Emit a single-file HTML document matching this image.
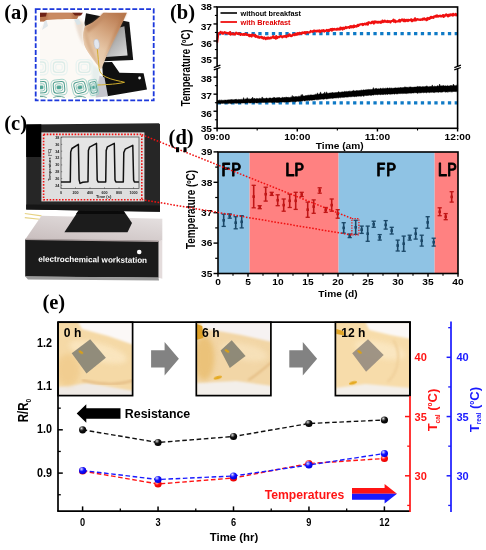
<!DOCTYPE html>
<html lang="en"><head><meta charset="utf-8"><title>Figure</title>
<style>
html,body{margin:0;padding:0;background:#fff;}
body{width:486px;height:550px;overflow:hidden;}
svg{display:block;}
</style></head><body>
<svg width="486" height="550" viewBox="0 0 486 550">
<rect width="486" height="550" fill="#fff"/>
<defs>
<filter id="b1" x="-20%" y="-20%" width="140%" height="140%"><feGaussianBlur stdDeviation="0.6"/></filter>
<filter id="b2" x="-20%" y="-20%" width="140%" height="140%"><feGaussianBlur stdDeviation="1.2"/></filter>
<filter id="b3" x="-30%" y="-30%" width="160%" height="160%"><feGaussianBlur stdDeviation="2.5"/></filter>
<filter id="b5" x="-30%" y="-30%" width="160%" height="160%"><feGaussianBlur stdDeviation="5"/></filter>
<clipPath id="clipA"><rect x="40" y="12.6" width="112" height="85.1"/></clipPath>
<clipPath id="clipP1"><rect x="58.0" y="322.2" width="74.6" height="73.4"/></clipPath>
<clipPath id="clipP2"><rect x="196.3" y="322.2" width="74.6" height="73.4"/></clipPath>
<clipPath id="clipP3"><rect x="335.4" y="322.2" width="74.6" height="73.4"/></clipPath>
<linearGradient id="skinA" x1="0.75" y1="0" x2="0.3" y2="1"><stop offset="0" stop-color="#b9794f"/><stop offset="0.35" stop-color="#d3a37c"/><stop offset="0.65" stop-color="#e6c6a6"/><stop offset="1" stop-color="#ecd2b8"/></linearGradient>
<linearGradient id="scrA" x1="0.2" y1="0" x2="0.8" y2="1"><stop offset="0" stop-color="#8e8e8e"/><stop offset="1" stop-color="#d6d6d6"/></linearGradient>
<linearGradient id="topW" x1="0.8" y1="0" x2="0.1" y2="1"><stop offset="0" stop-color="#e4dfdf"/><stop offset="1" stop-color="#c9bebe"/></linearGradient>
<radialGradient id="ball" cx="0.35" cy="0.3" r="0.7"><stop offset="0" stop-color="#e8e8e8"/><stop offset="0.22" stop-color="#777"/><stop offset="0.5" stop-color="#111"/><stop offset="1" stop-color="#000"/></radialGradient>
<radialGradient id="ballR" cx="0.35" cy="0.3" r="0.7"><stop offset="0" stop-color="#ffe0e0"/><stop offset="0.22" stop-color="#ff8080"/><stop offset="0.5" stop-color="#ff1010"/><stop offset="1" stop-color="#e80000"/></radialGradient>
<radialGradient id="ballB" cx="0.35" cy="0.3" r="0.7"><stop offset="0" stop-color="#e0e0ff"/><stop offset="0.22" stop-color="#8080ff"/><stop offset="0.5" stop-color="#1010ff"/><stop offset="1" stop-color="#0000e0"/></radialGradient>
</defs>
<text x="4.3" y="18.9" font-size="20.5" font-weight="bold" fill="#000" text-anchor="start" font-family='"Liberation Serif", serif' >(a)</text>
<g clip-path="url(#clipA)">
<rect x="36" y="10" width="118" height="91" fill="#fff"/>
<polygon points="86,13.2 129.3,22 133.2,60 103,61.2 84,26" fill="#131313"/>
<polygon points="110,30 124.4,26.3 127.6,55.4 106,57" fill="url(#scrA)"/>
<polygon points="102,62.3 112,62 119.5,72.8 143.6,73.2 147,89.5 107.3,96.2 103,78" fill="#101010"/>
<polygon points="98,75 104.5,77.5 108,96.2 95.5,97.7" fill="#c6c6ce"/>
<circle cx="139.6" cy="78" r="1.4" fill="#fff"/>
<rect x="40" y="12.6" width="40" height="9" fill="#b9764f"/>
<path d="M40,12.6 L47,12.6 L46,16.5 L40,17 Z" fill="#6e2413" filter="url(#b1)"/>
<path d="M72,12.6 L83,12.6 L81,15.5 L75,15.5 Z" fill="#6e2413" filter="url(#b1)"/>
<path d="M48,12.6 L71,12.6 L73,20 L47,20 Z" fill="#c98a62" filter="url(#b2)"/>
<path d="M103.6,12.6 L127,12.6 C123,22 115,38 107.3,54 L101,70 C96,62 88,54 84.5,46 C82,38 83,30 85,26 C92,24 98,19 103.6,12.6 Z" fill="url(#skinA)"/>
<path d="M85,27 C90,26 97,20 103.6,12.6 L108,12.6 C102,22 94,29 87,33 Z" fill="#c08a63" filter="url(#b2)" opacity="0.7"/>
<path d="M127,12.6 C123,22 115,38 107.3,54 L104,62 C108,46 117,28 123,12.6 Z" fill="#b27449" filter="url(#b2)" opacity="0.45"/>
<path d="M84,30 C84,40 88,52 101,70 C96,58 90,46 87,30 Z" fill="#d6ad88" filter="url(#b2)" opacity="0.8"/>
<path d="M40,28.6 L44.5,21.4 L46.4,20 C56,19 68,19 77,19 L79,15.5 C82,18 84,22 85,26 C82.5,30 82,38 84.5,46.8 C87,53 94,62 101,69.5 C99,76 97.5,85 94.5,97.7 L40,97.7 Z" fill="#fcf9f5"/>
<path d="M78.2,19.5 C81,21 83,23 84.5,25 C82.5,30 82,38 84.5,46.8 C80,40 76,30 75,21 Z" fill="#eadccf" filter="url(#b2)" opacity="0.9"/>
<path d="M44.5,21.4 L46.4,20 L48,26 L42,30 Z" fill="#dfe6ea" filter="url(#b1)"/>
<path d="M74,19.5 L79,19 L81,24 L77,25 Z" fill="#d8e4e8" filter="url(#b1)"/>
<path d="M88,58 C92,64 97,68 101,69.5 C99,76 97.5,85 94.5,97.7 L90,97.7 C93,85 93,72 88,58 Z" fill="#e6eeec" filter="url(#b2)"/>
<rect x="31.8" y="59.7" width="16.4" height="15.1" rx="4.5" fill="none" stroke="#e9f3f1" stroke-width="1.3" filter="url(#b1)"/>
<rect x="34.4" y="62.0" width="11.2" height="10.3" rx="3.1" fill="none" stroke="#dcece8" stroke-width="1.3" filter="url(#b1)"/>
<rect x="36.8" y="64.3" width="6.4" height="5.9" rx="1.8" fill="none" stroke="#ebf4f2" stroke-width="1.3" filter="url(#b1)"/>
<rect x="50.8" y="59.7" width="16.4" height="15.1" rx="4.5" fill="none" stroke="#e9f3f1" stroke-width="1.3" filter="url(#b1)"/>
<rect x="53.4" y="62.0" width="11.2" height="10.3" rx="3.1" fill="none" stroke="#dcece8" stroke-width="1.3" filter="url(#b1)"/>
<rect x="55.8" y="64.3" width="6.4" height="5.9" rx="1.8" fill="none" stroke="#ebf4f2" stroke-width="1.3" filter="url(#b1)"/>
<rect x="76.1" y="59.7" width="16.4" height="15.1" rx="4.5" fill="none" stroke="#e9f3f1" stroke-width="1.3" filter="url(#b1)"/>
<rect x="78.7" y="62.0" width="11.2" height="10.3" rx="3.1" fill="none" stroke="#dcece8" stroke-width="1.3" filter="url(#b1)"/>
<rect x="81.1" y="64.3" width="6.4" height="5.9" rx="1.8" fill="none" stroke="#ebf4f2" stroke-width="1.3" filter="url(#b1)"/>
<rect x="33.2" y="79.6" width="15.6" height="15.6" rx="4.3" fill="none" stroke="#a5d3ca" stroke-width="1.0" transform="rotate(-5 41 87.4)"/>
<rect x="35.4" y="81.8" width="11.2" height="11.2" rx="3.1" fill="none" stroke="#4f9f91" stroke-width="1.0" transform="rotate(-5 41 87.4)"/>
<rect x="37.4" y="83.8" width="7.2" height="7.2" rx="2.0" fill="none" stroke="#8cc6bb" stroke-width="0.9" transform="rotate(-5 41 87.4)"/>
<rect x="38.6" y="85.6" width="4.8" height="3.6" rx="1.2" fill="#4fa596" filter="url(#b1)" transform="rotate(-5 41 87.4)"/>
<rect x="51.2" y="79.6" width="15.6" height="15.6" rx="4.3" fill="none" stroke="#a5d3ca" stroke-width="1.0" transform="rotate(-5 59 87.4)"/>
<rect x="53.4" y="81.8" width="11.2" height="11.2" rx="3.1" fill="none" stroke="#4f9f91" stroke-width="1.0" transform="rotate(-5 59 87.4)"/>
<rect x="55.4" y="83.8" width="7.2" height="7.2" rx="2.0" fill="none" stroke="#8cc6bb" stroke-width="0.9" transform="rotate(-5 59 87.4)"/>
<rect x="56.6" y="85.6" width="4.8" height="3.6" rx="1.2" fill="#4fa596" filter="url(#b1)" transform="rotate(-5 59 87.4)"/>
<rect x="72.2" y="79.6" width="15.6" height="15.6" rx="4.3" fill="none" stroke="#a5d3ca" stroke-width="1.0" transform="rotate(-14 80 87.4)"/>
<rect x="74.4" y="81.8" width="11.2" height="11.2" rx="3.1" fill="none" stroke="#4f9f91" stroke-width="1.0" transform="rotate(-14 80 87.4)"/>
<rect x="76.4" y="83.8" width="7.2" height="7.2" rx="2.0" fill="none" stroke="#8cc6bb" stroke-width="0.9" transform="rotate(-14 80 87.4)"/>
<rect x="77.6" y="85.6" width="4.8" height="3.6" rx="1.2" fill="#4fa596" filter="url(#b1)" transform="rotate(-14 80 87.4)"/>
<rect x="89.2" y="79.6" width="8.6" height="15.6" rx="2.4" fill="none" stroke="#a5d3ca" stroke-width="1.0" transform="rotate(-10 93.5 87.4)"/>
<rect x="90.4" y="81.8" width="6.2" height="11.2" rx="1.7" fill="none" stroke="#4f9f91" stroke-width="1.0" transform="rotate(-10 93.5 87.4)"/>
<rect x="91.5" y="83.8" width="4.0" height="7.2" rx="1.1" fill="none" stroke="#8cc6bb" stroke-width="0.9" transform="rotate(-10 93.5 87.4)"/>
<rect x="92.2" y="85.6" width="2.6" height="3.6" rx="1.2" fill="#4fa596" filter="url(#b1)" transform="rotate(-10 93.5 87.4)"/>
<rect x="34.5" y="96.6" width="13" height="8" rx="4" fill="none" stroke="#5b9d92" stroke-width="1"/>
<rect x="52.5" y="96.6" width="13" height="8" rx="4" fill="none" stroke="#5b9d92" stroke-width="1"/>
<rect x="73.5" y="96.6" width="13" height="8" rx="4" fill="none" stroke="#5b9d92" stroke-width="1"/>
<path d="M97.3,49 C98,56 98.6,63 99.2,68.6 C100,73 102,75 106,77 C112,80 120,81 124.5,82.3 C118,84 108,84.6 97.5,85" fill="none" stroke="#d2ae2c" stroke-width="1"/>
<ellipse cx="96.7" cy="44" rx="2.7" ry="5" fill="#e3e7ef" stroke="#b4b9c6" stroke-width="0.5" transform="rotate(-8 96.7 44)"/>
</g>
<rect x="35.7" y="9.2" width="118" height="91.2" fill="none" stroke="#1c38dc" stroke-width="1.8" stroke-dasharray="4.9 2"/>
<text x="170" y="19" font-size="20.5" font-weight="bold" fill="#000" text-anchor="start" font-family='"Liberation Serif", serif' >(b)</text>
<line x1="217.7" y1="33.6" x2="457.1" y2="33.6" stroke="#0f7ac6" stroke-width="3.3" stroke-dasharray="3.3 3.47"/>
<line x1="217.7" y1="102.9" x2="457.1" y2="102.9" stroke="#0f7ac6" stroke-width="3.3" stroke-dasharray="3.3 3.47"/>
<path d="M217.1,100.6 L217.7,100.3 L218.3,100.3 L218.9,100.5 L219.5,100.0 L220.1,100.5 L220.7,100.2 L221.3,99.8 L221.9,100.4 L222.5,100.3 L223.1,100.2 L223.7,100.3 L224.3,100.2 L224.9,100.0 L225.5,100.1 L226.1,99.9 L226.7,100.2 L227.3,99.9 L227.9,99.9 L228.5,99.8 L229.1,99.9 L229.7,99.7 L230.3,99.6 L230.9,100.0 L231.5,99.3 L232.1,99.9 L232.7,99.5 L233.3,99.8 L233.9,99.7 L234.5,99.7 L235.1,99.1 L235.7,99.6 L236.3,99.3 L236.9,99.6 L237.5,99.7 L238.1,99.7 L238.7,99.3 L239.3,99.5 L239.9,99.5 L240.5,99.4 L241.2,99.2 L241.8,99.4 L242.4,99.4 L243.0,99.4 L243.6,97.6 L244.2,99.1 L244.8,99.4 L245.4,98.9 L246.0,98.9 L246.6,99.0 L247.2,97.6 L247.8,98.8 L248.4,99.2 L249.0,98.5 L249.6,99.2 L250.2,99.1 L250.8,99.0 L251.4,98.4 L252.0,98.8 L252.6,97.1 L253.2,98.8 L253.8,98.7 L254.4,98.0 L255.0,98.8 L255.6,98.9 L256.2,98.4 L256.8,98.5 L257.4,98.5 L258.0,98.8 L258.6,98.7 L259.2,98.5 L259.8,98.2 L260.4,98.6 L261.0,98.7 L261.6,98.2 L262.2,96.9 L262.8,98.2 L263.4,98.3 L264.0,98.5 L264.6,98.5 L265.2,98.5 L265.8,98.3 L266.4,97.9 L267.0,98.1 L267.6,98.4 L268.2,98.4 L268.8,98.2 L269.4,98.1 L270.0,97.8 L270.6,98.1 L271.2,98.3 L271.8,98.3 L272.4,98.0 L273.0,98.1 L273.6,97.4 L274.2,97.6 L274.8,97.4 L275.4,98.1 L276.0,97.9 L276.6,97.8 L277.2,97.8 L277.8,97.6 L278.4,97.9 L279.0,97.0 L279.6,97.8 L280.2,97.9 L280.8,98.0 L281.4,97.9 L282.0,97.6 L282.6,97.3 L283.2,97.6 L283.8,97.8 L284.4,97.1 L285.0,97.8 L285.6,97.3 L286.2,97.2 L286.8,97.0 L287.4,97.6 L288.0,97.0 L288.6,97.4 L289.2,97.6 L289.9,97.5 L290.5,97.2 L291.1,97.2 L291.7,97.1 L292.3,95.4 L292.9,97.2 L293.5,96.3 L294.1,96.9 L294.7,96.8 L295.3,96.6 L295.9,96.6 L296.5,96.6 L297.1,96.7 L297.7,96.7 L298.3,96.2 L298.9,96.5 L299.5,96.3 L300.1,96.4 L300.7,96.1 L301.3,94.6 L301.9,95.9 L302.5,94.4 L303.1,96.1 L303.7,96.0 L304.3,95.9 L304.9,95.9 L305.5,95.6 L306.1,95.6 L306.7,95.6 L307.3,95.3 L307.9,95.5 L308.5,94.9 L309.1,95.2 L309.7,95.2 L310.3,95.1 L310.9,94.7 L311.5,94.9 L312.1,95.1 L312.7,95.1 L313.3,94.9 L313.9,94.9 L314.5,94.8 L315.1,94.4 L315.7,94.2 L316.3,94.3 L316.9,94.5 L317.5,92.8 L318.1,94.3 L318.7,94.3 L319.3,94.0 L319.9,93.8 L320.5,91.9 L321.1,93.6 L321.7,93.9 L322.3,93.9 L322.9,93.8 L323.5,93.5 L324.1,93.5 L324.7,91.9 L325.3,93.4 L325.9,93.7 L326.5,91.8 L327.1,93.6 L327.7,93.1 L328.3,93.4 L328.9,93.0 L329.5,93.1 L330.1,92.8 L330.7,93.0 L331.3,93.0 L331.9,92.4 L332.5,92.5 L333.1,92.5 L333.7,92.9 L334.3,92.7 L334.9,92.7 L335.5,92.6 L336.1,92.4 L336.7,92.5 L337.4,92.5 L338.0,92.2 L338.6,91.5 L339.2,92.3 L339.8,92.3 L340.4,92.3 L341.0,92.3 L341.6,91.9 L342.2,91.9 L342.8,91.8 L343.4,91.9 L344.0,92.0 L344.6,91.3 L345.2,91.8 L345.8,91.5 L346.4,91.4 L347.0,91.4 L347.6,91.7 L348.2,91.1 L348.8,91.5 L349.4,91.1 L350.0,91.4 L350.6,91.2 L351.2,91.3 L351.8,91.2 L352.4,90.9 L353.0,91.1 L353.6,90.3 L354.2,90.8 L354.8,91.0 L355.4,90.9 L356.0,90.8 L356.6,90.5 L357.2,90.5 L357.8,90.7 L358.4,90.7 L359.0,90.4 L359.6,90.6 L360.2,90.3 L360.8,90.4 L361.4,90.0 L362.0,90.2 L362.6,90.3 L363.2,89.7 L363.8,90.1 L364.4,90.1 L365.0,90.1 L365.6,89.8 L366.2,90.0 L366.8,89.4 L367.4,89.7 L368.0,89.6 L368.6,89.4 L369.2,89.5 L369.8,89.6 L370.4,89.4 L371.0,89.5 L371.6,89.5 L372.2,89.3 L372.8,89.2 L373.4,87.6 L374.0,89.3 L374.6,89.2 L375.2,88.3 L375.8,88.9 L376.4,88.3 L377.0,88.8 L377.6,88.9 L378.2,88.8 L378.8,88.7 L379.4,88.9 L380.0,88.6 L380.6,88.1 L381.2,88.7 L381.8,88.7 L382.4,88.3 L383.0,88.7 L383.6,88.2 L384.2,88.4 L384.8,88.6 L385.4,88.2 L386.1,88.4 L386.7,88.3 L387.3,87.9 L387.9,87.9 L388.5,88.4 L389.1,88.3 L389.7,87.7 L390.3,88.2 L390.9,88.2 L391.5,88.0 L392.1,88.2 L392.7,88.3 L393.3,88.3 L393.9,88.1 L394.5,88.0 L395.1,88.0 L395.7,87.7 L396.3,87.9 L396.9,88.0 L397.5,87.9 L398.1,87.4 L398.7,87.9 L399.3,88.0 L399.9,87.4 L400.5,87.6 L401.1,87.5 L401.7,87.8 L402.3,87.6 L402.9,87.7 L403.5,87.5 L404.1,87.5 L404.7,86.8 L405.3,87.0 L405.9,87.3 L406.5,87.3 L407.1,87.1 L407.7,87.5 L408.3,87.2 L408.9,87.5 L409.5,87.1 L410.1,86.8 L410.7,87.1 L411.3,87.3 L411.9,87.0 L412.5,87.3 L413.1,87.1 L413.7,87.3 L414.3,87.1 L414.9,87.1 L415.5,87.1 L416.1,86.7 L416.7,87.1 L417.3,86.5 L417.9,86.4 L418.5,87.0 L419.1,86.2 L419.7,86.8 L420.3,86.7 L420.9,86.6 L421.5,86.9 L422.1,86.8 L422.7,86.6 L423.3,86.8 L423.9,86.6 L424.5,86.8 L425.1,86.6 L425.7,86.4 L426.3,85.9 L426.9,86.3 L427.5,86.3 L428.1,86.7 L428.7,86.7 L429.3,86.7 L429.9,86.2 L430.5,86.6 L431.1,86.3 L431.7,86.5 L432.3,84.9 L432.9,86.5 L433.5,86.5 L434.2,86.4 L434.8,85.9 L435.4,86.4 L436.0,86.0 L436.6,86.4 L437.2,86.1 L437.8,85.6 L438.4,86.3 L439.0,86.0 L439.6,84.1 L440.2,85.5 L440.8,86.1 L441.4,85.8 L442.0,86.1 L442.6,85.7 L443.2,85.5 L443.8,85.6 L444.4,86.1 L445.0,85.8 L445.6,85.8 L446.2,86.0 L446.8,85.9 L447.4,85.4 L448.0,85.9 L448.6,85.9 L449.2,85.9 L449.8,85.8 L450.4,85.5 L451.0,85.5 L451.6,85.6 L452.2,85.7 L452.8,85.7 L453.4,84.0 L454.0,85.1 L454.6,85.7 L455.2,85.5 L455.8,85.7 L456.4,85.2 L457.0,85.5 L457.6,84.9 L457.6,91.6 L457.0,91.3 L456.4,91.7 L455.8,91.4 L455.2,91.7 L454.6,91.4 L454.0,91.8 L453.4,91.4 L452.8,91.8 L452.2,91.8 L451.6,92.0 L451.0,91.5 L450.4,91.8 L449.8,91.7 L449.2,91.8 L448.6,92.0 L448.0,91.6 L447.4,92.2 L446.8,91.9 L446.2,92.0 L445.6,92.2 L445.0,91.7 L444.4,91.8 L443.8,91.8 L443.2,91.7 L442.6,92.1 L442.0,92.0 L441.4,92.2 L440.8,92.2 L440.2,92.1 L439.6,92.0 L439.0,91.9 L438.4,92.5 L437.8,92.2 L437.2,92.0 L436.6,92.0 L436.0,92.4 L435.4,92.1 L434.8,92.6 L434.2,92.5 L433.5,92.5 L432.9,92.2 L432.3,92.2 L431.7,92.2 L431.1,92.4 L430.5,92.2 L429.9,92.4 L429.3,92.7 L428.7,92.3 L428.1,92.6 L427.5,92.3 L426.9,92.6 L426.3,92.9 L425.7,92.5 L425.1,92.6 L424.5,92.5 L423.9,93.0 L423.3,92.6 L422.7,92.5 L422.1,92.6 L421.5,92.7 L420.9,93.1 L420.3,92.7 L419.7,93.0 L419.1,92.6 L418.5,92.8 L417.9,93.4 L417.3,93.2 L416.7,92.7 L416.1,93.0 L415.5,92.7 L414.9,92.8 L414.3,92.8 L413.7,93.1 L413.1,92.9 L412.5,92.9 L411.9,93.1 L411.3,93.2 L410.7,93.2 L410.1,93.1 L409.5,93.1 L408.9,93.5 L408.3,93.1 L407.7,93.3 L407.1,93.4 L406.5,93.6 L405.9,93.4 L405.3,93.4 L404.7,93.5 L404.1,93.3 L403.5,93.5 L402.9,93.6 L402.3,93.6 L401.7,93.4 L401.1,93.4 L400.5,93.6 L399.9,93.7 L399.3,93.5 L398.7,93.6 L398.1,93.8 L397.5,93.9 L396.9,93.8 L396.3,94.0 L395.7,93.7 L395.1,93.7 L394.5,94.2 L393.9,93.9 L393.3,93.8 L392.7,94.1 L392.1,93.9 L391.5,94.0 L390.9,94.5 L390.3,94.1 L389.7,94.2 L389.1,94.0 L388.5,94.0 L387.9,94.0 L387.3,94.7 L386.7,94.0 L386.1,94.3 L385.4,94.6 L384.8,94.3 L384.2,94.2 L383.6,94.5 L383.0,94.7 L382.4,94.4 L381.8,94.5 L381.2,94.3 L380.6,94.9 L380.0,94.4 L379.4,94.4 L378.8,94.4 L378.2,94.6 L377.6,94.8 L377.0,94.9 L376.4,94.5 L375.8,94.7 L375.2,94.7 L374.6,94.6 L374.0,95.3 L373.4,94.9 L372.8,94.9 L372.2,95.0 L371.6,95.4 L371.0,94.9 L370.4,95.4 L369.8,95.1 L369.2,95.2 L368.6,95.2 L368.0,95.7 L367.4,95.2 L366.8,95.9 L366.2,95.3 L365.6,95.5 L365.0,95.5 L364.4,95.6 L363.8,96.5 L363.2,95.9 L362.6,95.7 L362.0,95.8 L361.4,96.3 L360.8,95.9 L360.2,96.5 L359.6,96.0 L359.0,95.9 L358.4,96.3 L357.8,96.2 L357.2,96.1 L356.6,96.7 L356.0,96.4 L355.4,96.2 L354.8,97.0 L354.2,96.5 L353.6,96.5 L353.0,96.4 L352.4,96.6 L351.8,96.5 L351.2,96.9 L350.6,96.8 L350.0,96.8 L349.4,96.7 L348.8,97.1 L348.2,96.8 L347.6,96.9 L347.0,97.4 L346.4,96.9 L345.8,97.1 L345.2,97.0 L344.6,97.2 L344.0,97.4 L343.4,97.3 L342.8,97.4 L342.2,97.3 L341.6,97.3 L341.0,97.6 L340.4,97.8 L339.8,97.5 L339.2,97.6 L338.6,98.1 L338.0,97.8 L337.4,97.8 L336.7,98.0 L336.1,97.8 L335.5,98.0 L334.9,97.9 L334.3,98.1 L333.7,98.3 L333.1,98.1 L332.5,98.5 L331.9,98.3 L331.3,98.2 L330.7,98.3 L330.1,98.6 L329.5,98.4 L328.9,98.4 L328.3,98.7 L327.7,98.7 L327.1,99.1 L326.5,99.1 L325.9,98.8 L325.3,98.7 L324.7,99.0 L324.1,99.1 L323.5,99.3 L322.9,99.2 L322.3,99.0 L321.7,99.1 L321.1,99.2 L320.5,99.2 L319.9,99.6 L319.3,99.3 L318.7,99.7 L318.1,99.5 L317.5,99.8 L316.9,99.7 L316.3,99.8 L315.7,99.6 L315.1,99.7 L314.5,99.9 L313.9,99.9 L313.3,99.9 L312.7,100.2 L312.1,99.9 L311.5,100.3 L310.9,100.3 L310.3,100.1 L309.7,100.5 L309.1,100.5 L308.5,100.2 L307.9,100.4 L307.3,100.6 L306.7,100.4 L306.1,100.4 L305.5,100.7 L304.9,100.9 L304.3,100.9 L303.7,100.6 L303.1,100.8 L302.5,101.0 L301.9,101.0 L301.3,101.1 L300.7,100.9 L300.1,101.7 L299.5,101.0 L298.9,101.2 L298.3,101.6 L297.7,101.3 L297.1,101.2 L296.5,101.4 L295.9,101.7 L295.3,102.1 L294.7,101.6 L294.1,101.7 L293.5,101.6 L292.9,101.9 L292.3,101.6 L291.7,101.6 L291.1,102.1 L290.5,101.8 L289.9,101.9 L289.2,102.0 L288.6,102.1 L288.0,102.1 L287.4,102.0 L286.8,102.2 L286.2,102.0 L285.6,102.1 L285.0,102.0 L284.4,102.2 L283.8,102.1 L283.2,102.1 L282.6,102.0 L282.0,102.2 L281.4,102.0 L280.8,102.0 L280.2,102.1 L279.6,102.3 L279.0,102.1 L278.4,102.7 L277.8,102.5 L277.2,102.4 L276.6,102.5 L276.0,102.2 L275.4,102.2 L274.8,102.4 L274.2,102.6 L273.6,102.2 L273.0,102.5 L272.4,102.4 L271.8,102.8 L271.2,102.5 L270.6,102.3 L270.0,102.4 L269.4,102.3 L268.8,102.5 L268.2,102.3 L267.6,102.3 L267.0,102.5 L266.4,102.6 L265.8,102.5 L265.2,102.6 L264.6,102.6 L264.0,102.5 L263.4,102.5 L262.8,102.5 L262.2,102.4 L261.6,102.5 L261.0,102.6 L260.4,102.6 L259.8,102.6 L259.2,102.5 L258.6,102.7 L258.0,102.8 L257.4,103.1 L256.8,103.0 L256.2,102.9 L255.6,102.8 L255.0,102.7 L254.4,102.9 L253.8,103.3 L253.2,102.7 L252.6,102.7 L252.0,103.1 L251.4,102.7 L250.8,102.9 L250.2,103.1 L249.6,103.0 L249.0,102.8 L248.4,102.8 L247.8,102.9 L247.2,102.9 L246.6,102.9 L246.0,102.9 L245.4,103.2 L244.8,103.1 L244.2,103.1 L243.6,103.0 L243.0,102.9 L242.4,103.1 L241.8,103.0 L241.2,103.1 L240.5,103.5 L239.9,103.0 L239.3,103.3 L238.7,103.2 L238.1,103.0 L237.5,103.3 L236.9,103.1 L236.3,103.5 L235.7,103.2 L235.1,103.2 L234.5,103.1 L233.9,103.2 L233.3,103.1 L232.7,103.1 L232.1,103.4 L231.5,103.8 L230.9,103.2 L230.3,103.7 L229.7,103.3 L229.1,103.3 L228.5,103.6 L227.9,103.4 L227.3,103.3 L226.7,103.4 L226.1,103.3 L225.5,103.6 L224.9,103.3 L224.3,103.5 L223.7,103.2 L223.1,103.4 L222.5,103.4 L221.9,103.3 L221.3,103.4 L220.7,103.4 L220.1,103.7 L219.5,103.5 L218.9,103.3 L218.3,103.4 L217.7,103.5 L217.1,103.5 Z" fill="#000" stroke="#000" stroke-width="0.5" stroke-linejoin="round"/>
<path d="M217.1,42.7 L217.6,38.8 L218.1,34.9 L218.6,33.3 L219.1,33.2 L219.6,33.0 L220.1,32.7 L220.6,31.8 L221.1,32.6 L221.6,32.5 L222.1,33.7 L222.6,32.5 L223.1,33.7 L223.6,33.1 L224.1,32.8 L224.6,32.2 L225.1,32.5 L225.6,33.0 L226.1,32.7 L226.6,33.3 L227.1,33.2 L227.6,33.3 L228.1,32.8 L228.6,33.5 L229.1,33.9 L229.6,34.1 L230.1,32.0 L230.6,34.6 L231.1,33.5 L231.6,33.6 L232.1,33.7 L232.6,34.2 L233.1,33.3 L233.6,33.6 L234.1,34.3 L234.6,34.0 L235.1,34.5 L235.6,33.6 L236.1,32.7 L236.6,33.0 L237.1,33.3 L237.6,33.9 L238.1,34.0 L238.6,33.7 L239.1,33.1 L239.6,34.0 L240.1,34.1 L240.6,34.8 L241.2,34.2 L241.7,34.1 L242.2,34.6 L242.7,34.8 L243.2,34.3 L243.7,34.1 L244.2,34.8 L244.7,34.0 L245.2,34.6 L245.7,34.3 L246.2,33.7 L246.7,34.9 L247.2,34.7 L247.7,35.0 L248.2,35.1 L248.7,34.8 L249.2,36.0 L249.7,35.0 L250.2,36.1 L250.7,35.7 L251.2,35.0 L251.7,36.5 L252.2,34.8 L252.7,34.6 L253.2,35.1 L253.7,35.5 L254.2,35.9 L254.7,36.2 L255.2,34.9 L255.7,36.8 L256.2,36.3 L256.7,36.1 L257.2,36.8 L257.7,37.3 L258.2,36.5 L258.7,36.7 L259.2,37.8 L259.7,37.3 L260.2,37.4 L260.7,37.3 L261.2,36.9 L261.7,36.8 L262.2,38.1 L262.7,37.5 L263.2,37.9 L263.7,38.6 L264.2,37.3 L264.7,38.1 L265.2,38.0 L265.7,39.2 L266.2,37.8 L266.7,38.1 L267.2,37.8 L267.7,38.6 L268.2,37.5 L268.7,38.2 L269.2,38.6 L269.7,38.0 L270.2,37.8 L270.7,38.4 L271.2,37.4 L271.7,37.7 L272.2,37.4 L272.7,37.2 L273.2,36.2 L273.7,37.7 L274.2,37.9 L274.7,37.3 L275.2,37.5 L275.7,38.7 L276.2,36.2 L276.7,37.0 L277.2,38.1 L277.7,37.5 L278.2,36.9 L278.7,37.1 L279.2,37.1 L279.7,36.6 L280.2,36.2 L280.7,36.1 L281.2,36.5 L281.7,36.3 L282.2,37.3 L282.7,37.2 L283.2,36.3 L283.7,36.5 L284.2,36.1 L284.7,36.6 L285.2,36.4 L285.7,36.0 L286.2,37.2 L286.7,36.5 L287.2,35.4 L287.7,35.6 L288.2,36.2 L288.7,35.4 L289.2,34.4 L289.8,34.5 L290.3,35.9 L290.8,35.4 L291.3,36.1 L291.8,35.3 L292.3,35.6 L292.8,35.2 L293.3,34.4 L293.8,34.7 L294.3,34.6 L294.8,35.2 L295.3,33.7 L295.8,34.3 L296.3,34.8 L296.8,33.9 L297.3,33.2 L297.8,34.5 L298.3,33.4 L298.8,34.2 L299.3,32.9 L299.8,32.9 L300.3,33.3 L300.8,33.7 L301.3,33.8 L301.8,33.4 L302.3,32.4 L302.8,32.6 L303.3,32.7 L303.8,32.9 L304.3,32.6 L304.8,32.1 L305.3,33.7 L305.8,32.5 L306.3,32.2 L306.8,32.7 L307.3,32.3 L307.8,32.1 L308.3,32.5 L308.8,32.5 L309.3,32.5 L309.8,32.2 L310.3,31.6 L310.8,31.0 L311.3,31.5 L311.8,31.5 L312.3,31.8 L312.8,31.2 L313.3,31.5 L313.8,30.6 L314.3,31.2 L314.8,30.6 L315.3,30.9 L315.8,31.1 L316.3,30.9 L316.8,31.5 L317.3,30.6 L317.8,31.1 L318.3,31.4 L318.8,30.9 L319.3,30.4 L319.8,30.8 L320.3,32.1 L320.8,31.1 L321.3,30.7 L321.8,30.4 L322.3,31.2 L322.8,30.5 L323.3,30.2 L323.8,30.3 L324.3,31.5 L324.8,30.9 L325.3,30.9 L325.8,30.8 L326.3,30.5 L326.8,29.8 L327.3,30.4 L327.8,30.9 L328.3,31.0 L328.8,29.9 L329.3,30.8 L329.8,30.3 L330.3,29.3 L330.8,29.2 L331.3,29.1 L331.8,30.6 L332.3,28.9 L332.8,29.8 L333.3,29.1 L333.8,29.6 L334.3,28.9 L334.8,29.4 L335.3,29.3 L335.8,29.4 L336.3,29.7 L336.8,29.1 L337.4,28.6 L337.9,29.6 L338.4,28.8 L338.9,29.4 L339.4,29.4 L339.9,29.6 L340.4,27.6 L340.9,28.4 L341.4,28.7 L341.9,27.8 L342.4,29.5 L342.9,28.2 L343.4,28.5 L343.9,27.7 L344.4,28.8 L344.9,27.9 L345.4,27.9 L345.9,27.0 L346.4,28.0 L346.9,27.7 L347.4,27.4 L347.9,27.3 L348.4,27.2 L348.9,27.3 L349.4,27.9 L349.9,26.5 L350.4,26.1 L350.9,26.9 L351.4,27.3 L351.9,26.2 L352.4,27.2 L352.9,26.4 L353.4,27.3 L353.9,25.5 L354.4,26.9 L354.9,25.9 L355.4,26.4 L355.9,26.2 L356.4,26.5 L356.9,25.7 L357.4,26.2 L357.9,24.9 L358.4,25.9 L358.9,25.3 L359.4,24.7 L359.9,24.6 L360.4,24.4 L360.9,24.2 L361.4,24.5 L361.9,24.2 L362.4,23.9 L362.9,25.1 L363.4,24.3 L363.9,24.1 L364.4,24.1 L364.9,23.6 L365.4,24.4 L365.9,24.5 L366.4,23.9 L366.9,23.2 L367.4,23.9 L367.9,24.6 L368.4,22.4 L368.9,22.3 L369.4,22.6 L369.9,22.9 L370.4,22.8 L370.9,23.3 L371.4,23.1 L371.9,21.9 L372.4,22.6 L372.9,21.6 L373.4,22.4 L373.9,23.5 L374.4,22.1 L374.9,21.3 L375.4,22.0 L375.9,22.5 L376.4,22.5 L376.9,21.7 L377.4,22.5 L377.9,22.7 L378.4,21.8 L378.9,21.9 L379.4,22.3 L379.9,22.4 L380.4,21.6 L380.9,22.8 L381.4,22.1 L381.9,22.0 L382.4,20.6 L382.9,22.2 L383.4,21.2 L383.9,21.7 L384.4,20.8 L384.9,20.7 L385.4,21.6 L386.0,21.3 L386.5,21.9 L387.0,21.6 L387.5,20.9 L388.0,22.0 L388.5,21.7 L389.0,21.2 L389.5,21.4 L390.0,21.4 L390.5,22.4 L391.0,21.3 L391.5,21.1 L392.0,21.1 L392.5,20.9 L393.0,20.5 L393.5,19.7 L394.0,21.6 L394.5,21.4 L395.0,20.5 L395.5,22.1 L396.0,21.4 L396.5,21.3 L397.0,21.4 L397.5,21.4 L398.0,21.4 L398.5,21.2 L399.0,20.4 L399.5,19.8 L400.0,21.6 L400.5,20.3 L401.0,20.3 L401.5,20.3 L402.0,19.5 L402.5,20.3 L403.0,19.7 L403.5,20.9 L404.0,21.2 L404.5,19.6 L405.0,20.2 L405.5,21.1 L406.0,20.3 L406.5,19.8 L407.0,20.7 L407.5,20.0 L408.0,21.0 L408.5,19.8 L409.0,20.0 L409.5,20.2 L410.0,20.3 L410.5,20.2 L411.0,19.3 L411.5,19.3 L412.0,21.2 L412.5,20.6 L413.0,20.1 L413.5,19.9 L414.0,20.5 L414.5,19.4 L415.0,18.3 L415.5,20.5 L416.0,20.4 L416.5,19.7 L417.0,19.1 L417.5,19.3 L418.0,19.7 L418.5,19.4 L419.0,19.6 L419.5,19.7 L420.0,19.8 L420.5,19.9 L421.0,19.4 L421.5,19.6 L422.0,19.3 L422.5,19.8 L423.0,18.6 L423.5,19.4 L424.0,19.4 L424.5,18.5 L425.0,19.3 L425.5,19.2 L426.0,19.2 L426.5,20.2 L427.0,18.5 L427.5,19.7 L428.0,18.0 L428.5,18.2 L429.0,18.6 L429.5,18.9 L430.0,17.7 L430.5,18.1 L431.0,16.8 L431.5,17.8 L432.0,17.3 L432.5,17.2 L433.0,17.7 L433.5,17.8 L434.1,16.3 L434.6,16.3 L435.1,16.5 L435.6,16.6 L436.1,15.7 L436.6,16.6 L437.1,15.5 L437.6,15.8 L438.1,16.5 L438.6,16.2 L439.1,16.0 L439.6,16.1 L440.1,15.6 L440.6,16.3 L441.1,16.2 L441.6,16.3 L442.1,16.1 L442.6,15.3 L443.1,15.2 L443.6,16.9 L444.1,15.3 L444.6,16.2 L445.1,15.4 L445.6,15.1 L446.1,14.4 L446.6,15.4 L447.1,14.9 L447.6,15.6 L448.1,16.4 L448.6,16.1 L449.1,14.6 L449.6,15.7 L450.1,15.2 L450.6,14.3 L451.1,14.4 L451.6,15.2 L452.1,15.1 L452.6,15.5 L453.1,13.8 L453.6,15.3 L454.1,14.6 L454.6,14.5 L455.1,14.6 L455.6,13.9 L456.1,15.4 L456.6,15.0 L457.1,14.3 L457.6,14.5" fill="none" stroke="#f01010" stroke-width="2.2" stroke-linejoin="round"/>
<rect x="217.1" y="7.0" width="240.50000000000003" height="121.30000000000001" fill="none" stroke="#000" stroke-width="1.6"/>
<rect x="215.1" y="66.8" width="4" height="1.6" fill="#fff"/>
<line x1="213.79999999999998" y1="67.6" x2="220.4" y2="65.2" stroke="#000" stroke-width="1.3" />
<line x1="213.79999999999998" y1="69.9" x2="220.4" y2="67.5" stroke="#000" stroke-width="1.3" />
<rect x="455.6" y="66.8" width="4" height="1.6" fill="#fff"/>
<line x1="454.3" y1="67.6" x2="460.90000000000003" y2="65.2" stroke="#000" stroke-width="1.3" />
<line x1="454.3" y1="69.9" x2="460.90000000000003" y2="67.5" stroke="#000" stroke-width="1.3" />
<line x1="213.5" y1="6.9" x2="217.1" y2="6.9" stroke="#000" stroke-width="1.4" />
<text transform="translate(212.0,10.4) scale(1.17,1)" font-size="8.7" font-weight="bold" fill="#000" text-anchor="end" font-family='"Liberation Sans", sans-serif' >38</text>
<line x1="213.5" y1="23.950000000000003" x2="217.1" y2="23.950000000000003" stroke="#000" stroke-width="1.4" />
<text transform="translate(212.0,29.9) scale(1.17,1)" font-size="8.7" font-weight="bold" fill="#000" text-anchor="end" font-family='"Liberation Sans", sans-serif' >37</text>
<line x1="213.5" y1="41.0" x2="217.1" y2="41.0" stroke="#000" stroke-width="1.4" />
<text transform="translate(212.0,46.6) scale(1.17,1)" font-size="8.7" font-weight="bold" fill="#000" text-anchor="end" font-family='"Liberation Sans", sans-serif' >36</text>
<line x1="213.5" y1="58.050000000000004" x2="217.1" y2="58.050000000000004" stroke="#000" stroke-width="1.4" />
<text transform="translate(212.0,63.0) scale(1.17,1)" font-size="8.7" font-weight="bold" fill="#000" text-anchor="end" font-family='"Liberation Sans", sans-serif' >35</text>
<line x1="214.9" y1="15.425" x2="217.1" y2="15.425" stroke="#000" stroke-width="1.1" />
<line x1="214.9" y1="32.475" x2="217.1" y2="32.475" stroke="#000" stroke-width="1.1" />
<line x1="214.9" y1="49.525" x2="217.1" y2="49.525" stroke="#000" stroke-width="1.1" />
<line x1="213.5" y1="77.1" x2="217.1" y2="77.1" stroke="#000" stroke-width="1.4" />
<text transform="translate(212.0,81.6) scale(1.17,1)" font-size="8.7" font-weight="bold" fill="#000" text-anchor="end" font-family='"Liberation Sans", sans-serif' >38</text>
<line x1="213.5" y1="94.16999999999999" x2="217.1" y2="94.16999999999999" stroke="#000" stroke-width="1.4" />
<text transform="translate(212.0,99.3) scale(1.17,1)" font-size="8.7" font-weight="bold" fill="#000" text-anchor="end" font-family='"Liberation Sans", sans-serif' >37</text>
<line x1="213.5" y1="111.24" x2="217.1" y2="111.24" stroke="#000" stroke-width="1.4" />
<text transform="translate(212.0,116.6) scale(1.17,1)" font-size="8.7" font-weight="bold" fill="#000" text-anchor="end" font-family='"Liberation Sans", sans-serif' >36</text>
<line x1="213.5" y1="128.31" x2="217.1" y2="128.31" stroke="#000" stroke-width="1.4" />
<text transform="translate(212.0,131.8) scale(1.17,1)" font-size="8.7" font-weight="bold" fill="#000" text-anchor="end" font-family='"Liberation Sans", sans-serif' >35</text>
<line x1="214.9" y1="85.63499999999999" x2="217.1" y2="85.63499999999999" stroke="#000" stroke-width="1.1" />
<line x1="214.9" y1="102.705" x2="217.1" y2="102.705" stroke="#000" stroke-width="1.1" />
<line x1="214.9" y1="119.77499999999999" x2="217.1" y2="119.77499999999999" stroke="#000" stroke-width="1.1" />
<line x1="217.1" y1="128.3" x2="217.1" y2="131.5" stroke="#000" stroke-width="1.4" />
<text transform="translate(217.1,139.5) scale(1.17,1)" font-size="8.7" font-weight="bold" fill="#000" text-anchor="middle" font-family='"Liberation Sans", sans-serif' >09:00</text>
<line x1="297.26666666666665" y1="128.3" x2="297.26666666666665" y2="131.5" stroke="#000" stroke-width="1.4" />
<text transform="translate(297.3,139.5) scale(1.17,1)" font-size="8.7" font-weight="bold" fill="#000" text-anchor="middle" font-family='"Liberation Sans", sans-serif' >10:00</text>
<line x1="377.43333333333334" y1="128.3" x2="377.43333333333334" y2="131.5" stroke="#000" stroke-width="1.4" />
<text transform="translate(377.4,139.5) scale(1.17,1)" font-size="8.7" font-weight="bold" fill="#000" text-anchor="middle" font-family='"Liberation Sans", sans-serif' >11:00</text>
<line x1="457.6" y1="128.3" x2="457.6" y2="131.5" stroke="#000" stroke-width="1.4" />
<text transform="translate(457.6,139.5) scale(1.17,1)" font-size="8.7" font-weight="bold" fill="#000" text-anchor="middle" font-family='"Liberation Sans", sans-serif' >12:00</text>
<line x1="257.18333333333334" y1="128.3" x2="257.18333333333334" y2="130.5" stroke="#000" stroke-width="1.1" />
<line x1="337.35" y1="128.3" x2="337.35" y2="130.5" stroke="#000" stroke-width="1.1" />
<line x1="417.5166666666667" y1="128.3" x2="417.5166666666667" y2="130.5" stroke="#000" stroke-width="1.1" />
<text transform="translate(339.7,149.3) scale(1.17,1)" font-size="8.7" font-weight="bold" fill="#000" text-anchor="middle" font-family='"Liberation Sans", sans-serif' >Time (am)</text>
<text transform="translate(190.3,68) scale(1.3,1) rotate(-90)" font-size="9.6" font-weight="bold" fill="#000" text-anchor="middle" font-family='"Liberation Sans", sans-serif' >Temperature (<tspan font-size="5.5" dy="-3">o</tspan><tspan dy="3">C)</tspan></text>
<line x1="220.5" y1="13" x2="237" y2="13" stroke="#000" stroke-width="1.6" />
<text x="240.6" y="15.6" font-size="7.3" font-weight="bold" fill="#000" text-anchor="start" font-family='"Liberation Sans", sans-serif' >without breakfast</text>
<line x1="220.5" y1="22" x2="237" y2="22" stroke="#f01010" stroke-width="1.8" />
<text x="240.6" y="24.6" font-size="7.3" font-weight="bold" fill="#e00000" text-anchor="start" font-family='"Liberation Sans", sans-serif' >with Breakfast</text>
<path d="M24.8,213.5 L41.5,215.9 M24.8,217.6 L39.6,219.2" fill="none" stroke="#e6d283" stroke-width="1.1"/>
<polygon points="41.5,215.8 162.3,218.7 162.3,240.5 158.5,241.3 25.2,239.4" fill="url(#topW)"/>
<polygon points="158.5,241.3 162.3,240.5 162.3,278.8 158.5,277.8" fill="#e4dcdc"/>
<polygon points="25.2,239.2 158.5,241.1 158.5,277.8 25.2,276.6" fill="#1b1b1b"/>
<polygon points="25.2,238.7 158.5,240.6 158.5,242 25.2,240.1" fill="#a99e9e" filter="url(#b1)"/>
<polygon points="25.2,276.4 158.5,277.6 159,280.4 28,279.6" fill="#9a9a9a" filter="url(#b1)"/>
<circle cx="139.2" cy="252" r="2.3" fill="#fff"/>
<text transform="translate(92.6,262.3) rotate(0.7)" font-size="8.1" font-weight="bold" fill="#fff" text-anchor="middle" font-family='"Liberation Sans", sans-serif'>electrochemical workstation</text>
<polygon points="79.6,209 122.5,209 132,223 127.5,232.2 64.4,232.2" fill="#1c1c1c"/>
<polygon points="79.6,209 122.5,209 125,214 76,214" fill="#0a0a0a"/>
<polygon points="26.2,124.4 158.8,123.3 160,124.3 160,211.7 26.2,209.5" fill="#262626"/>
<polygon points="26.2,124.4 41.3,124.3 41.3,157 26.2,157" fill="#000"/>
<polygon points="26.2,204.5 160,205.5 160,211.7 26.2,209.5" fill="#161616"/>
<rect x="41.4" y="132.4" width="103" height="69" fill="#dedede"/>
<rect x="61" y="137" width="78" height="51.5" fill="#e4e4e4" stroke="#444" stroke-width="0.7"/>
<path d="M61.0,182.0 L70.3,182.0 L70.7,151.9 L71.9,148.5 L78.4,144.4 L79.1,179.9 L80.0,183.4 L82.8,182.3 L88.0,181.7 L88.4,150.5 L89.6,147.1 L96.5,143.4 L97.2,179.9 L98.1,182.0 L105.7,182.0 L106.2,150.5 L107.4,146.8 L114.3,143.4 L115.0,179.9 L115.9,182.0 L123.3,182.0 L123.8,152.6 L125.2,149.2 L132.8,145.4 L133.6,179.9 L134.4,182.0 L138.9,182.0" fill="none" stroke="#111" stroke-width="1.5" stroke-linejoin="round"/>
<text x="59.4" y="186.72" font-size="3.7" font-weight="bold" fill="#222" text-anchor="end" font-family='"Liberation Sans", sans-serif' >24</text>
<line x1="61" y1="185.4" x2="62.2" y2="185.4" stroke="#333" stroke-width="0.5" />
<text x="59.4" y="179.88000000000002" font-size="3.7" font-weight="bold" fill="#222" text-anchor="end" font-family='"Liberation Sans", sans-serif' >26</text>
<line x1="61" y1="178.6" x2="62.2" y2="178.6" stroke="#333" stroke-width="0.5" />
<text x="59.4" y="173.04000000000002" font-size="3.7" font-weight="bold" fill="#222" text-anchor="end" font-family='"Liberation Sans", sans-serif' >28</text>
<line x1="61" y1="171.7" x2="62.2" y2="171.7" stroke="#333" stroke-width="0.5" />
<text x="59.4" y="166.20000000000002" font-size="3.7" font-weight="bold" fill="#222" text-anchor="end" font-family='"Liberation Sans", sans-serif' >30</text>
<line x1="61" y1="164.9" x2="62.2" y2="164.9" stroke="#333" stroke-width="0.5" />
<text x="59.4" y="159.36" font-size="3.7" font-weight="bold" fill="#222" text-anchor="end" font-family='"Liberation Sans", sans-serif' >32</text>
<line x1="61" y1="158.1" x2="62.2" y2="158.1" stroke="#333" stroke-width="0.5" />
<text x="59.4" y="152.52" font-size="3.7" font-weight="bold" fill="#222" text-anchor="end" font-family='"Liberation Sans", sans-serif' >34</text>
<line x1="61" y1="151.2" x2="62.2" y2="151.2" stroke="#333" stroke-width="0.5" />
<text x="59.4" y="145.68" font-size="3.7" font-weight="bold" fill="#222" text-anchor="end" font-family='"Liberation Sans", sans-serif' >36</text>
<line x1="61" y1="144.4" x2="62.2" y2="144.4" stroke="#333" stroke-width="0.5" />
<text x="59.4" y="138.84" font-size="3.7" font-weight="bold" fill="#222" text-anchor="end" font-family='"Liberation Sans", sans-serif' >38</text>
<line x1="61" y1="137.5" x2="62.2" y2="137.5" stroke="#333" stroke-width="0.5" />
<text x="61.0" y="193.8" font-size="3.7" font-weight="bold" fill="#222" text-anchor="middle" font-family='"Liberation Sans", sans-serif' >0</text>
<line x1="61.0" y1="188.5" x2="61.0" y2="187.3" stroke="#333" stroke-width="0.5" />
<text x="75.5" y="193.8" font-size="3.7" font-weight="bold" fill="#222" text-anchor="middle" font-family='"Liberation Sans", sans-serif' >200</text>
<line x1="75.5" y1="188.5" x2="75.5" y2="187.3" stroke="#333" stroke-width="0.5" />
<text x="90.0" y="193.8" font-size="3.7" font-weight="bold" fill="#222" text-anchor="middle" font-family='"Liberation Sans", sans-serif' >400</text>
<line x1="90.0" y1="188.5" x2="90.0" y2="187.3" stroke="#333" stroke-width="0.5" />
<text x="104.5" y="193.8" font-size="3.7" font-weight="bold" fill="#222" text-anchor="middle" font-family='"Liberation Sans", sans-serif' >600</text>
<line x1="104.5" y1="188.5" x2="104.5" y2="187.3" stroke="#333" stroke-width="0.5" />
<text x="119.0" y="193.8" font-size="3.7" font-weight="bold" fill="#222" text-anchor="middle" font-family='"Liberation Sans", sans-serif' >800</text>
<line x1="119.0" y1="188.5" x2="119.0" y2="187.3" stroke="#333" stroke-width="0.5" />
<text x="133.5" y="193.8" font-size="3.7" font-weight="bold" fill="#222" text-anchor="middle" font-family='"Liberation Sans", sans-serif' >1000</text>
<line x1="133.5" y1="188.5" x2="133.5" y2="187.3" stroke="#333" stroke-width="0.5" />
<text x="103.6" y="198" font-size="4" font-weight="bold" fill="#222" text-anchor="middle" font-family='"Liberation Sans", sans-serif' >Time (s)</text>
<text transform="translate(50.5,165) rotate(-90)" font-size="4" font-weight="bold" text-anchor="middle" fill="#222" font-family='"Liberation Sans", sans-serif'>Temperature (°C)</text>
<rect x="43.6" y="134.4" width="98.2" height="65.4" fill="none" stroke="#f01010" stroke-width="1.6" stroke-dasharray="1.6 1.5"/>
<text x="4.3" y="130.4" font-size="20.5" font-weight="bold" fill="#000" text-anchor="start" font-family='"Liberation Serif", serif' >(c)</text>
<rect x="218" y="152" width="31.6" height="121.5" fill="#8fc3e4"/>
<rect x="249.6" y="152" width="89.0" height="121.5" fill="#ff8181"/>
<rect x="338.6" y="152" width="96.0" height="121.5" fill="#8fc3e4"/>
<rect x="434.6" y="152" width="23.4" height="121.5" fill="#ff8181"/>
<text x="221" y="176" font-size="17.3" font-weight="normal" fill="#000" text-anchor="start" font-family='"DejaVu Sans", "Liberation Sans", sans-serif' textLength="20" lengthAdjust="spacingAndGlyphs" stroke="#000" stroke-width="0.8" stroke-linejoin="round">FP</text>
<text x="285" y="176" font-size="17.3" font-weight="normal" fill="#000" text-anchor="start" font-family='"DejaVu Sans", "Liberation Sans", sans-serif' textLength="19" lengthAdjust="spacingAndGlyphs" stroke="#000" stroke-width="0.8" stroke-linejoin="round">LP</text>
<text x="376" y="176" font-size="17.3" font-weight="normal" fill="#000" text-anchor="start" font-family='"DejaVu Sans", "Liberation Sans", sans-serif' textLength="20" lengthAdjust="spacingAndGlyphs" stroke="#000" stroke-width="0.8" stroke-linejoin="round">FP</text>
<text x="437.6" y="176" font-size="17.3" font-weight="normal" fill="#000" text-anchor="start" font-family='"DejaVu Sans", "Liberation Sans", sans-serif' textLength="19" lengthAdjust="spacingAndGlyphs" stroke="#000" stroke-width="0.8" stroke-linejoin="round">LP</text>
<line x1="223.7" y1="214.2" x2="223.7" y2="226.4" stroke="#1b4868" stroke-width="1.6" />
<line x1="221.6" y1="214.2" x2="225.8" y2="214.2" stroke="#1b4868" stroke-width="1.3" />
<line x1="221.6" y1="226.4" x2="225.8" y2="226.4" stroke="#1b4868" stroke-width="1.3" />
<rect x="222.4" y="219.0" width="2.6" height="2.6" fill="#1b4868"/>
<line x1="229.7" y1="213.9" x2="229.7" y2="218.2" stroke="#1b4868" stroke-width="1.6" />
<line x1="227.6" y1="213.9" x2="231.8" y2="213.9" stroke="#1b4868" stroke-width="1.3" />
<line x1="227.6" y1="218.2" x2="231.8" y2="218.2" stroke="#1b4868" stroke-width="1.3" />
<rect x="228.4" y="214.7" width="2.6" height="2.6" fill="#1b4868"/>
<line x1="235.7" y1="216.7" x2="235.7" y2="228.8" stroke="#1b4868" stroke-width="1.6" />
<line x1="233.6" y1="216.7" x2="237.8" y2="216.7" stroke="#1b4868" stroke-width="1.3" />
<line x1="233.6" y1="228.8" x2="237.8" y2="228.8" stroke="#1b4868" stroke-width="1.3" />
<rect x="234.4" y="221.4" width="2.6" height="2.6" fill="#1b4868"/>
<line x1="241.7" y1="215.7" x2="241.7" y2="227.9" stroke="#1b4868" stroke-width="1.6" />
<line x1="239.6" y1="215.7" x2="243.8" y2="215.7" stroke="#1b4868" stroke-width="1.3" />
<line x1="239.6" y1="227.9" x2="243.8" y2="227.9" stroke="#1b4868" stroke-width="1.3" />
<rect x="240.4" y="220.5" width="2.6" height="2.6" fill="#1b4868"/>
<line x1="343.7" y1="222.7" x2="343.7" y2="233.1" stroke="#1b4868" stroke-width="1.6" />
<line x1="341.6" y1="222.7" x2="345.8" y2="222.7" stroke="#1b4868" stroke-width="1.3" />
<line x1="341.6" y1="233.1" x2="345.8" y2="233.1" stroke="#1b4868" stroke-width="1.3" />
<rect x="342.4" y="226.6" width="2.6" height="2.6" fill="#1b4868"/>
<line x1="349.7" y1="234.0" x2="349.7" y2="237.6" stroke="#1b4868" stroke-width="1.6" />
<line x1="347.6" y1="234.0" x2="351.8" y2="234.0" stroke="#1b4868" stroke-width="1.3" />
<line x1="347.6" y1="237.6" x2="351.8" y2="237.6" stroke="#1b4868" stroke-width="1.3" />
<rect x="348.4" y="234.5" width="2.6" height="2.6" fill="#1b4868"/>
<line x1="355.7" y1="220.3" x2="355.7" y2="234.3" stroke="#1b4868" stroke-width="1.6" />
<line x1="353.6" y1="220.3" x2="357.8" y2="220.3" stroke="#1b4868" stroke-width="1.3" />
<line x1="353.6" y1="234.3" x2="357.8" y2="234.3" stroke="#1b4868" stroke-width="1.3" />
<rect x="354.4" y="226.0" width="2.6" height="2.6" fill="#1b4868"/>
<line x1="361.7" y1="226.1" x2="361.7" y2="233.4" stroke="#1b4868" stroke-width="1.6" />
<line x1="359.6" y1="226.1" x2="363.8" y2="226.1" stroke="#1b4868" stroke-width="1.3" />
<line x1="359.6" y1="233.4" x2="363.8" y2="233.4" stroke="#1b4868" stroke-width="1.3" />
<rect x="360.4" y="228.4" width="2.6" height="2.6" fill="#1b4868"/>
<line x1="367.7" y1="226.1" x2="367.7" y2="241.3" stroke="#1b4868" stroke-width="1.6" />
<line x1="365.6" y1="226.1" x2="369.8" y2="226.1" stroke="#1b4868" stroke-width="1.3" />
<line x1="365.6" y1="241.3" x2="369.8" y2="241.3" stroke="#1b4868" stroke-width="1.3" />
<rect x="366.4" y="232.4" width="2.6" height="2.6" fill="#1b4868"/>
<line x1="373.7" y1="221.2" x2="373.7" y2="227.3" stroke="#1b4868" stroke-width="1.6" />
<line x1="371.6" y1="221.2" x2="375.8" y2="221.2" stroke="#1b4868" stroke-width="1.3" />
<line x1="371.6" y1="227.3" x2="375.8" y2="227.3" stroke="#1b4868" stroke-width="1.3" />
<rect x="372.4" y="223.0" width="2.6" height="2.6" fill="#1b4868"/>
<line x1="379.7" y1="234.6" x2="379.7" y2="240.1" stroke="#1b4868" stroke-width="1.6" />
<line x1="377.6" y1="234.6" x2="381.8" y2="234.6" stroke="#1b4868" stroke-width="1.3" />
<line x1="377.6" y1="240.1" x2="381.8" y2="240.1" stroke="#1b4868" stroke-width="1.3" />
<rect x="378.4" y="236.0" width="2.6" height="2.6" fill="#1b4868"/>
<line x1="385.7" y1="220.6" x2="385.7" y2="229.1" stroke="#1b4868" stroke-width="1.6" />
<line x1="383.6" y1="220.6" x2="387.8" y2="220.6" stroke="#1b4868" stroke-width="1.3" />
<line x1="383.6" y1="229.1" x2="387.8" y2="229.1" stroke="#1b4868" stroke-width="1.3" />
<rect x="384.4" y="223.6" width="2.6" height="2.6" fill="#1b4868"/>
<line x1="391.7" y1="227.3" x2="391.7" y2="234.0" stroke="#1b4868" stroke-width="1.6" />
<line x1="389.6" y1="227.3" x2="393.8" y2="227.3" stroke="#1b4868" stroke-width="1.3" />
<line x1="389.6" y1="234.0" x2="393.8" y2="234.0" stroke="#1b4868" stroke-width="1.3" />
<rect x="390.4" y="229.3" width="2.6" height="2.6" fill="#1b4868"/>
<line x1="397.7" y1="240.1" x2="397.7" y2="251.0" stroke="#1b4868" stroke-width="1.6" />
<line x1="395.6" y1="240.1" x2="399.8" y2="240.1" stroke="#1b4868" stroke-width="1.3" />
<line x1="395.6" y1="251.0" x2="399.8" y2="251.0" stroke="#1b4868" stroke-width="1.3" />
<rect x="396.4" y="244.2" width="2.6" height="2.6" fill="#1b4868"/>
<line x1="403.7" y1="236.1" x2="403.7" y2="251.3" stroke="#1b4868" stroke-width="1.6" />
<line x1="401.6" y1="236.1" x2="405.8" y2="236.1" stroke="#1b4868" stroke-width="1.3" />
<line x1="401.6" y1="251.3" x2="405.8" y2="251.3" stroke="#1b4868" stroke-width="1.3" />
<rect x="402.4" y="242.4" width="2.6" height="2.6" fill="#1b4868"/>
<line x1="409.7" y1="235.2" x2="409.7" y2="240.1" stroke="#1b4868" stroke-width="1.6" />
<line x1="407.6" y1="235.2" x2="411.8" y2="235.2" stroke="#1b4868" stroke-width="1.3" />
<line x1="407.6" y1="240.1" x2="411.8" y2="240.1" stroke="#1b4868" stroke-width="1.3" />
<rect x="408.4" y="236.3" width="2.6" height="2.6" fill="#1b4868"/>
<line x1="415.7" y1="228.2" x2="415.7" y2="239.1" stroke="#1b4868" stroke-width="1.6" />
<line x1="413.6" y1="228.2" x2="417.8" y2="228.2" stroke="#1b4868" stroke-width="1.3" />
<line x1="413.6" y1="239.1" x2="417.8" y2="239.1" stroke="#1b4868" stroke-width="1.3" />
<rect x="414.4" y="232.4" width="2.6" height="2.6" fill="#1b4868"/>
<line x1="421.7" y1="235.2" x2="421.7" y2="246.1" stroke="#1b4868" stroke-width="1.6" />
<line x1="419.6" y1="235.2" x2="423.8" y2="235.2" stroke="#1b4868" stroke-width="1.3" />
<line x1="419.6" y1="246.1" x2="423.8" y2="246.1" stroke="#1b4868" stroke-width="1.3" />
<rect x="420.4" y="239.4" width="2.6" height="2.6" fill="#1b4868"/>
<line x1="427.7" y1="216.7" x2="427.7" y2="228.2" stroke="#1b4868" stroke-width="1.6" />
<line x1="425.6" y1="216.7" x2="429.8" y2="216.7" stroke="#1b4868" stroke-width="1.3" />
<line x1="425.6" y1="228.2" x2="429.8" y2="228.2" stroke="#1b4868" stroke-width="1.3" />
<rect x="426.4" y="221.1" width="2.6" height="2.6" fill="#1b4868"/>
<line x1="433.7" y1="238.2" x2="433.7" y2="246.1" stroke="#1b4868" stroke-width="1.6" />
<line x1="431.6" y1="238.2" x2="435.8" y2="238.2" stroke="#1b4868" stroke-width="1.3" />
<line x1="431.6" y1="246.1" x2="435.8" y2="246.1" stroke="#1b4868" stroke-width="1.3" />
<rect x="432.4" y="240.9" width="2.6" height="2.6" fill="#1b4868"/>
<line x1="253.7" y1="185.3" x2="253.7" y2="207.8" stroke="#c01616" stroke-width="1.6" />
<line x1="251.6" y1="185.3" x2="255.8" y2="185.3" stroke="#c01616" stroke-width="1.3" />
<line x1="251.6" y1="207.8" x2="255.8" y2="207.8" stroke="#c01616" stroke-width="1.3" />
<rect x="252.4" y="195.3" width="2.6" height="2.6" fill="#c01616"/>
<line x1="259.7" y1="205.7" x2="259.7" y2="208.7" stroke="#c01616" stroke-width="1.6" />
<line x1="257.6" y1="205.7" x2="261.8" y2="205.7" stroke="#c01616" stroke-width="1.3" />
<line x1="257.6" y1="208.7" x2="261.8" y2="208.7" stroke="#c01616" stroke-width="1.3" />
<rect x="258.4" y="205.9" width="2.6" height="2.6" fill="#c01616"/>
<line x1="265.7" y1="187.2" x2="265.7" y2="201.1" stroke="#c01616" stroke-width="1.6" />
<line x1="263.6" y1="187.2" x2="267.8" y2="187.2" stroke="#c01616" stroke-width="1.3" />
<line x1="263.6" y1="201.1" x2="267.8" y2="201.1" stroke="#c01616" stroke-width="1.3" />
<rect x="264.4" y="192.9" width="2.6" height="2.6" fill="#c01616"/>
<line x1="271.7" y1="192.3" x2="271.7" y2="195.4" stroke="#c01616" stroke-width="1.6" />
<line x1="269.6" y1="192.3" x2="273.8" y2="192.3" stroke="#c01616" stroke-width="1.3" />
<line x1="269.6" y1="195.4" x2="273.8" y2="195.4" stroke="#c01616" stroke-width="1.3" />
<rect x="270.4" y="192.6" width="2.6" height="2.6" fill="#c01616"/>
<line x1="277.7" y1="194.8" x2="277.7" y2="205.7" stroke="#c01616" stroke-width="1.6" />
<line x1="275.6" y1="194.8" x2="279.8" y2="194.8" stroke="#c01616" stroke-width="1.3" />
<line x1="275.6" y1="205.7" x2="279.8" y2="205.7" stroke="#c01616" stroke-width="1.3" />
<rect x="276.4" y="198.9" width="2.6" height="2.6" fill="#c01616"/>
<line x1="283.7" y1="199.0" x2="283.7" y2="211.2" stroke="#c01616" stroke-width="1.6" />
<line x1="281.6" y1="199.0" x2="285.8" y2="199.0" stroke="#c01616" stroke-width="1.3" />
<line x1="281.6" y1="211.2" x2="285.8" y2="211.2" stroke="#c01616" stroke-width="1.3" />
<rect x="282.4" y="203.8" width="2.6" height="2.6" fill="#c01616"/>
<line x1="289.7" y1="194.2" x2="289.7" y2="207.5" stroke="#c01616" stroke-width="1.6" />
<line x1="287.6" y1="194.2" x2="291.8" y2="194.2" stroke="#c01616" stroke-width="1.3" />
<line x1="287.6" y1="207.5" x2="291.8" y2="207.5" stroke="#c01616" stroke-width="1.3" />
<rect x="288.4" y="199.5" width="2.6" height="2.6" fill="#c01616"/>
<line x1="295.7" y1="192.3" x2="295.7" y2="209.4" stroke="#c01616" stroke-width="1.6" />
<line x1="293.6" y1="192.3" x2="297.8" y2="192.3" stroke="#c01616" stroke-width="1.3" />
<line x1="293.6" y1="209.4" x2="297.8" y2="209.4" stroke="#c01616" stroke-width="1.3" />
<rect x="294.4" y="199.5" width="2.6" height="2.6" fill="#c01616"/>
<line x1="301.7" y1="192.3" x2="301.7" y2="196.6" stroke="#c01616" stroke-width="1.6" />
<line x1="299.6" y1="192.3" x2="303.8" y2="192.3" stroke="#c01616" stroke-width="1.3" />
<line x1="299.6" y1="196.6" x2="303.8" y2="196.6" stroke="#c01616" stroke-width="1.3" />
<rect x="300.4" y="193.2" width="2.6" height="2.6" fill="#c01616"/>
<line x1="307.7" y1="202.1" x2="307.7" y2="217.3" stroke="#c01616" stroke-width="1.6" />
<line x1="305.6" y1="202.1" x2="309.8" y2="202.1" stroke="#c01616" stroke-width="1.3" />
<line x1="305.6" y1="217.3" x2="309.8" y2="217.3" stroke="#c01616" stroke-width="1.3" />
<rect x="306.4" y="208.4" width="2.6" height="2.6" fill="#c01616"/>
<line x1="313.7" y1="199.9" x2="313.7" y2="213.3" stroke="#c01616" stroke-width="1.6" />
<line x1="311.6" y1="199.9" x2="315.8" y2="199.9" stroke="#c01616" stroke-width="1.3" />
<line x1="311.6" y1="213.3" x2="315.8" y2="213.3" stroke="#c01616" stroke-width="1.3" />
<rect x="312.4" y="205.3" width="2.6" height="2.6" fill="#c01616"/>
<line x1="319.7" y1="187.8" x2="319.7" y2="193.2" stroke="#c01616" stroke-width="1.6" />
<line x1="317.6" y1="187.8" x2="321.8" y2="187.8" stroke="#c01616" stroke-width="1.3" />
<line x1="317.6" y1="193.2" x2="321.8" y2="193.2" stroke="#c01616" stroke-width="1.3" />
<rect x="318.4" y="189.2" width="2.6" height="2.6" fill="#c01616"/>
<line x1="325.7" y1="207.5" x2="325.7" y2="212.4" stroke="#c01616" stroke-width="1.6" />
<line x1="323.6" y1="207.5" x2="327.8" y2="207.5" stroke="#c01616" stroke-width="1.3" />
<line x1="323.6" y1="212.4" x2="327.8" y2="212.4" stroke="#c01616" stroke-width="1.3" />
<rect x="324.4" y="208.7" width="2.6" height="2.6" fill="#c01616"/>
<line x1="331.7" y1="199.0" x2="331.7" y2="211.2" stroke="#c01616" stroke-width="1.6" />
<line x1="329.6" y1="199.0" x2="333.8" y2="199.0" stroke="#c01616" stroke-width="1.3" />
<line x1="329.6" y1="211.2" x2="333.8" y2="211.2" stroke="#c01616" stroke-width="1.3" />
<rect x="330.4" y="203.8" width="2.6" height="2.6" fill="#c01616"/>
<line x1="337.7" y1="209.7" x2="337.7" y2="218.2" stroke="#c01616" stroke-width="1.6" />
<line x1="335.6" y1="209.7" x2="339.8" y2="209.7" stroke="#c01616" stroke-width="1.3" />
<line x1="335.6" y1="218.2" x2="339.8" y2="218.2" stroke="#c01616" stroke-width="1.3" />
<rect x="336.4" y="212.6" width="2.6" height="2.6" fill="#c01616"/>
<line x1="439.7" y1="207.8" x2="439.7" y2="215.7" stroke="#c01616" stroke-width="1.6" />
<line x1="437.6" y1="207.8" x2="441.8" y2="207.8" stroke="#c01616" stroke-width="1.3" />
<line x1="437.6" y1="215.7" x2="441.8" y2="215.7" stroke="#c01616" stroke-width="1.3" />
<rect x="438.4" y="210.5" width="2.6" height="2.6" fill="#c01616"/>
<line x1="445.7" y1="213.6" x2="445.7" y2="219.7" stroke="#c01616" stroke-width="1.6" />
<line x1="443.6" y1="213.6" x2="447.8" y2="213.6" stroke="#c01616" stroke-width="1.3" />
<line x1="443.6" y1="219.7" x2="447.8" y2="219.7" stroke="#c01616" stroke-width="1.3" />
<rect x="444.4" y="215.4" width="2.6" height="2.6" fill="#c01616"/>
<line x1="451.7" y1="191.7" x2="451.7" y2="202.1" stroke="#c01616" stroke-width="1.6" />
<line x1="449.6" y1="191.7" x2="453.8" y2="191.7" stroke="#c01616" stroke-width="1.3" />
<line x1="449.6" y1="202.1" x2="453.8" y2="202.1" stroke="#c01616" stroke-width="1.3" />
<rect x="450.4" y="195.6" width="2.6" height="2.6" fill="#c01616"/>
<rect x="218" y="152" width="240" height="121.5" fill="none" stroke="#000" stroke-width="1.6"/>
<line x1="213.5" y1="273.5" x2="218" y2="273.5" stroke="#000" stroke-width="1.4" />
<text transform="translate(212.3,276.7) scale(1.17,1)" font-size="8.7" font-weight="bold" fill="#000" text-anchor="end" font-family='"Liberation Sans", sans-serif' >35</text>
<line x1="213.5" y1="243.1" x2="218" y2="243.1" stroke="#000" stroke-width="1.4" />
<text transform="translate(212.3,246.3) scale(1.17,1)" font-size="8.7" font-weight="bold" fill="#000" text-anchor="end" font-family='"Liberation Sans", sans-serif' >36</text>
<line x1="213.5" y1="212.7" x2="218" y2="212.7" stroke="#000" stroke-width="1.4" />
<text transform="translate(212.3,215.9) scale(1.17,1)" font-size="8.7" font-weight="bold" fill="#000" text-anchor="end" font-family='"Liberation Sans", sans-serif' >37</text>
<line x1="213.5" y1="182.3" x2="218" y2="182.3" stroke="#000" stroke-width="1.4" />
<text transform="translate(212.3,185.5) scale(1.17,1)" font-size="8.7" font-weight="bold" fill="#000" text-anchor="end" font-family='"Liberation Sans", sans-serif' >38</text>
<line x1="213.5" y1="151.9" x2="218" y2="151.9" stroke="#000" stroke-width="1.4" />
<text transform="translate(212.3,155.1) scale(1.17,1)" font-size="8.7" font-weight="bold" fill="#000" text-anchor="end" font-family='"Liberation Sans", sans-serif' >39</text>
<line x1="215.2" y1="258.3" x2="218" y2="258.3" stroke="#000" stroke-width="1.2" />
<line x1="215.2" y1="227.9" x2="218" y2="227.9" stroke="#000" stroke-width="1.2" />
<line x1="215.2" y1="197.5" x2="218" y2="197.5" stroke="#000" stroke-width="1.2" />
<line x1="215.2" y1="167.10000000000002" x2="218" y2="167.10000000000002" stroke="#000" stroke-width="1.2" />
<line x1="218.0" y1="273.5" x2="218.0" y2="276.7" stroke="#000" stroke-width="1.4" />
<line x1="233.0" y1="273.5" x2="233.0" y2="275.7" stroke="#000" stroke-width="1.1" />
<text transform="translate(218.0,285.1) scale(1.17,1)" font-size="8.7" font-weight="bold" fill="#000" text-anchor="middle" font-family='"Liberation Sans", sans-serif' >0</text>
<line x1="248.0" y1="273.5" x2="248.0" y2="276.7" stroke="#000" stroke-width="1.4" />
<line x1="263.0" y1="273.5" x2="263.0" y2="275.7" stroke="#000" stroke-width="1.1" />
<text transform="translate(248.0,285.1) scale(1.17,1)" font-size="8.7" font-weight="bold" fill="#000" text-anchor="middle" font-family='"Liberation Sans", sans-serif' >5</text>
<line x1="278.0" y1="273.5" x2="278.0" y2="276.7" stroke="#000" stroke-width="1.4" />
<line x1="293.0" y1="273.5" x2="293.0" y2="275.7" stroke="#000" stroke-width="1.1" />
<text transform="translate(278.0,285.1) scale(1.17,1)" font-size="8.7" font-weight="bold" fill="#000" text-anchor="middle" font-family='"Liberation Sans", sans-serif' >10</text>
<line x1="308.0" y1="273.5" x2="308.0" y2="276.7" stroke="#000" stroke-width="1.4" />
<line x1="323.0" y1="273.5" x2="323.0" y2="275.7" stroke="#000" stroke-width="1.1" />
<text transform="translate(308.0,285.1) scale(1.17,1)" font-size="8.7" font-weight="bold" fill="#000" text-anchor="middle" font-family='"Liberation Sans", sans-serif' >15</text>
<line x1="338.0" y1="273.5" x2="338.0" y2="276.7" stroke="#000" stroke-width="1.4" />
<line x1="353.0" y1="273.5" x2="353.0" y2="275.7" stroke="#000" stroke-width="1.1" />
<text transform="translate(338.0,285.1) scale(1.17,1)" font-size="8.7" font-weight="bold" fill="#000" text-anchor="middle" font-family='"Liberation Sans", sans-serif' >20</text>
<line x1="368.0" y1="273.5" x2="368.0" y2="276.7" stroke="#000" stroke-width="1.4" />
<line x1="383.0" y1="273.5" x2="383.0" y2="275.7" stroke="#000" stroke-width="1.1" />
<text transform="translate(368.0,285.1) scale(1.17,1)" font-size="8.7" font-weight="bold" fill="#000" text-anchor="middle" font-family='"Liberation Sans", sans-serif' >25</text>
<line x1="398.0" y1="273.5" x2="398.0" y2="276.7" stroke="#000" stroke-width="1.4" />
<line x1="413.0" y1="273.5" x2="413.0" y2="275.7" stroke="#000" stroke-width="1.1" />
<text transform="translate(398.0,285.1) scale(1.17,1)" font-size="8.7" font-weight="bold" fill="#000" text-anchor="middle" font-family='"Liberation Sans", sans-serif' >30</text>
<line x1="428.0" y1="273.5" x2="428.0" y2="276.7" stroke="#000" stroke-width="1.4" />
<line x1="443.0" y1="273.5" x2="443.0" y2="275.7" stroke="#000" stroke-width="1.1" />
<text transform="translate(428.0,285.1) scale(1.17,1)" font-size="8.7" font-weight="bold" fill="#000" text-anchor="middle" font-family='"Liberation Sans", sans-serif' >35</text>
<line x1="458.0" y1="273.5" x2="458.0" y2="276.7" stroke="#000" stroke-width="1.4" />
<text transform="translate(458.0,285.1) scale(1.17,1)" font-size="8.7" font-weight="bold" fill="#000" text-anchor="middle" font-family='"Liberation Sans", sans-serif' >40</text>
<text transform="translate(338,297) scale(1.17,1)" font-size="8.7" font-weight="bold" fill="#000" text-anchor="middle" font-family='"Liberation Sans", sans-serif' >Time (d)</text>
<text transform="translate(194.6,209.5) scale(1.3,1) rotate(-90)" font-size="9.9" font-weight="bold" fill="#000" text-anchor="middle" font-family='"Liberation Sans", sans-serif' >Temperature (<tspan font-size="5.5" dy="-3">o</tspan><tspan dy="3">C)</tspan></text>
<line x1="141.8" y1="134.7" x2="351.9" y2="218.5" stroke="#f01010" stroke-width="1.5" stroke-dasharray="1.6 1.6"/>
<line x1="141.8" y1="199.6" x2="351.9" y2="235" stroke="#f01010" stroke-width="1.5" stroke-dasharray="1.6 1.6"/>
<rect x="351.9" y="218.6" width="7" height="16.3" fill="none" stroke="#f01010" stroke-width="1.2" stroke-dasharray="1.3 1.3"/>
<text x="168.6" y="144" font-size="20.5" font-weight="bold" fill="#000" text-anchor="start" font-family='"Liberation Serif", serif' >(d)</text>
<rect x="176" y="147.2" width="3.1" height="5" fill="#000"/><rect x="183.5" y="147.2" width="3.1" height="5" fill="#000"/>
<text x="42.4" y="308.6" font-size="20.5" font-weight="bold" fill="#000" text-anchor="start" font-family='"Liberation Serif", serif' >(e)</text>
<g clip-path="url(#clipP1)">
<rect x="58.0" y="322" width="76" height="74" fill="#f5d9a6"/>
<polygon points="78.0,322 134.0,322 134.0,345 108.0,336 82.0,329" fill="#fbf8f7" filter="url(#b2)"/>
<polygon points="58.0,387 88.0,383 134.0,391 134.0,400 58.0,400" fill="#efeae5" filter="url(#b2)"/>
<ellipse cx="98.0" cy="352" rx="30" ry="9" fill="#fbe8c4" opacity="0.8" filter="url(#b3)" transform="rotate(15 98.0 352)"/>
<ellipse cx="68.0" cy="370" rx="12" ry="16" fill="#f0c988" opacity="0.7" filter="url(#b3)"/>
<path d="M82.0,380 C98.0,384 118.0,386 134.0,380" fill="none" stroke="#e6bf88" stroke-width="2.5" filter="url(#b2)"/>
<polygon points="90.2,339.3 105.9,357.8 86.5,373.5 71.7,353.2" fill="#8c8878" filter="url(#b1)" opacity="0.95"/>
<ellipse cx="80.9" cy="352.3" rx="2.6" ry="1.3" fill="#d9a016" transform="rotate(35 80.9 352.3)" filter="url(#b1)"/>
</g>
<rect x="58.0" y="322.2" width="74.6" height="73.4" fill="none" stroke="#000" stroke-width="1.7"/>
<text x="63.8" y="337.3" font-size="12.1" font-weight="bold" fill="#000" text-anchor="start" font-family='"Liberation Sans", sans-serif' >0 h</text>
<g clip-path="url(#clipP2)">
<rect x="196.3" y="322" width="76" height="74" fill="#f2d6a6"/>
<polygon points="201.3,322 272.3,322 272.3,342 241.3,335 201.3,328" fill="#f6f2f2" filter="url(#b2)"/>
<polygon points="196.3,383 236.3,381 272.3,386 272.3,400 196.3,400" fill="#f3efea" filter="url(#b2)"/>
<ellipse cx="204.3" cy="358" rx="10" ry="22" fill="#e9bd6e" opacity="0.8" filter="url(#b3)"/>
<ellipse cx="244.3" cy="352" rx="24" ry="8" fill="#f8e3bd" opacity="0.8" filter="url(#b3)" transform="rotate(12 244.3 352)"/>
<path d="M248.3,380 C258.3,374 266.3,366 272.3,362" fill="none" stroke="#e3bb82" stroke-width="2" filter="url(#b2)"/>
<polygon points="196.3,324 202.3,326 203.3,338 196.3,340" fill="#dea026" filter="url(#b1)"/>
<ellipse cx="217.8" cy="377.6" rx="4.2" ry="1.7" fill="#e5aa22" transform="rotate(-15 217.8 377.6)" filter="url(#b1)"/>
<polygon points="231.7,340.2 245.6,356 229.8,368 220.6,350.4" fill="#8a8674" filter="url(#b1)" opacity="0.95"/>
<ellipse cx="227" cy="351" rx="2.6" ry="1.3" fill="#d9a016" transform="rotate(35 227 351)" filter="url(#b1)"/>
</g>
<rect x="196.3" y="322.2" width="74.6" height="73.4" fill="none" stroke="#000" stroke-width="1.7"/>
<text x="202.10000000000002" y="337.3" font-size="12.1" font-weight="bold" fill="#000" text-anchor="start" font-family='"Liberation Sans", sans-serif' >6 h</text>
<g clip-path="url(#clipP3)">
<rect x="335.4" y="322" width="76" height="74" fill="#f7dcaa"/>
<polygon points="365.4,322 411.4,322 411.4,339 390.4,335 369.4,330" fill="#fbf8f6" filter="url(#b2)"/>
<polygon points="335.4,388 365.4,384 411.4,388 411.4,400 335.4,400" fill="#f3efe9" filter="url(#b2)"/>
<ellipse cx="380.4" cy="350" rx="26" ry="8" fill="#fbe9c6" opacity="0.8" filter="url(#b3)" transform="rotate(12 380.4 350)"/>
<path d="M393.4,340 C401.4,352 399.4,372 387.4,382" fill="none" stroke="#efcf9a" stroke-width="2.5" filter="url(#b2)" opacity="0.8"/>
<polygon points="336.4,329 343.4,331 344.4,335.6 336.4,334" fill="#e0a426" filter="url(#b1)"/>
<ellipse cx="353" cy="382.8" rx="4" ry="1.6" fill="#e5aa22" transform="rotate(-15 353 382.8)" filter="url(#b1)"/>
<polygon points="368,339.3 383.7,355 366.1,371.7 352.2,353.2" fill="#9b9082" filter="url(#b1)" opacity="0.95"/>
<ellipse cx="359.6" cy="352" rx="2.6" ry="1.3" fill="#d9a016" transform="rotate(35 359.6 352)" filter="url(#b1)"/>
</g>
<rect x="335.4" y="322.2" width="74.6" height="73.4" fill="none" stroke="#000" stroke-width="1.7"/>
<text x="341.2" y="337.3" font-size="12.1" font-weight="bold" fill="#000" text-anchor="start" font-family='"Liberation Sans", sans-serif' >12 h</text>
<line x1="57.6" y1="322.2" x2="410.8" y2="322.2" stroke="#000" stroke-width="1.7" />
<line x1="409.9" y1="322" x2="409.9" y2="396" stroke="#000" stroke-width="1.8" />
<polygon points="151.1,350.2 164.6,350.2 164.6,342 178.9,358.7 164.6,375.4 164.6,367.6 151.1,367.6" fill="#828282"/>
<polygon points="289.3,350.2 302.8,350.2 302.8,342 317.1,358.7 302.8,375.4 302.8,367.6 289.3,367.6" fill="#828282"/>
<line x1="58.0" y1="322" x2="58.0" y2="511.2" stroke="#000" stroke-width="1.7" />
<line x1="57.2" y1="511.2" x2="410" y2="511.2" stroke="#000" stroke-width="1.7" />
<line x1="410" y1="396" x2="410" y2="512.0" stroke="#ff1414" stroke-width="1.7" />
<line x1="451" y1="321.5" x2="451" y2="512" stroke="#1a1aff" stroke-width="1.7" />
<text transform="translate(52.0,346.7) scale(0.9,1)" font-size="12" font-weight="bold" fill="#000" text-anchor="end" font-family='"Liberation Sans", sans-serif' >1.2</text>
<text transform="translate(52.0,390.0) scale(0.9,1)" font-size="12" font-weight="bold" fill="#000" text-anchor="end" font-family='"Liberation Sans", sans-serif' >1.1</text>
<line x1="58.0" y1="429.8" x2="62.8" y2="429.8" stroke="#000" stroke-width="1.5" />
<text transform="translate(52.0,433.3) scale(0.9,1)" font-size="12" font-weight="bold" fill="#000" text-anchor="end" font-family='"Liberation Sans", sans-serif' >1.0</text>
<line x1="58.0" y1="473.1" x2="62.8" y2="473.1" stroke="#000" stroke-width="1.5" />
<text transform="translate(52.0,476.6) scale(0.9,1)" font-size="12" font-weight="bold" fill="#000" text-anchor="end" font-family='"Liberation Sans", sans-serif' >0.9</text>
<line x1="58.0" y1="408.15" x2="60.8" y2="408.15" stroke="#000" stroke-width="1.3" />
<line x1="58.0" y1="451.45000000000005" x2="60.8" y2="451.45000000000005" stroke="#000" stroke-width="1.3" />
<line x1="58.0" y1="494.75" x2="60.8" y2="494.75" stroke="#000" stroke-width="1.3" />
<text x="414.6" y="361.3" font-size="11" font-weight="bold" fill="#ff1414" text-anchor="start" font-family='"Liberation Sans", sans-serif' >40</text>
<line x1="446.6" y1="357.3" x2="451" y2="357.3" stroke="#1a1aff" stroke-width="1.5" />
<text x="456.4" y="361.3" font-size="11" font-weight="bold" fill="#1a1aff" text-anchor="start" font-family='"Liberation Sans", sans-serif' >40</text>
<line x1="405" y1="416.55" x2="410" y2="416.55" stroke="#ff1414" stroke-width="1.5" />
<text x="414.6" y="420.6" font-size="11" font-weight="bold" fill="#ff1414" text-anchor="start" font-family='"Liberation Sans", sans-serif' >35</text>
<line x1="446.6" y1="416.55" x2="451" y2="416.55" stroke="#1a1aff" stroke-width="1.5" />
<text x="456.4" y="420.6" font-size="11" font-weight="bold" fill="#1a1aff" text-anchor="start" font-family='"Liberation Sans", sans-serif' >35</text>
<line x1="405" y1="475.8" x2="410" y2="475.8" stroke="#ff1414" stroke-width="1.5" />
<text x="414.6" y="479.8" font-size="11" font-weight="bold" fill="#ff1414" text-anchor="start" font-family='"Liberation Sans", sans-serif' >30</text>
<line x1="446.6" y1="475.8" x2="451" y2="475.8" stroke="#1a1aff" stroke-width="1.5" />
<text x="456.4" y="479.8" font-size="11" font-weight="bold" fill="#1a1aff" text-anchor="start" font-family='"Liberation Sans", sans-serif' >30</text>
<line x1="448.2" y1="327.675" x2="451" y2="327.675" stroke="#1a1aff" stroke-width="1.3" />
<line x1="448.2" y1="386.925" x2="451" y2="386.925" stroke="#1a1aff" stroke-width="1.3" />
<line x1="407.2" y1="446.175" x2="410" y2="446.175" stroke="#ff1414" stroke-width="1.3" />
<line x1="448.2" y1="446.175" x2="451" y2="446.175" stroke="#1a1aff" stroke-width="1.3" />
<line x1="407.2" y1="505.425" x2="410" y2="505.425" stroke="#ff1414" stroke-width="1.3" />
<line x1="448.2" y1="505.425" x2="451" y2="505.425" stroke="#1a1aff" stroke-width="1.3" />
<line x1="82.6" y1="511.2" x2="82.6" y2="506.4" stroke="#000" stroke-width="1.5" />
<text transform="translate(82.6,526) scale(0.84,1)" font-size="11" font-weight="bold" fill="#000" text-anchor="middle" font-family='"Liberation Sans", sans-serif' >0</text>
<line x1="158.04999999999998" y1="511.2" x2="158.04999999999998" y2="506.4" stroke="#000" stroke-width="1.5" />
<text transform="translate(158.0,526) scale(0.84,1)" font-size="11" font-weight="bold" fill="#000" text-anchor="middle" font-family='"Liberation Sans", sans-serif' >3</text>
<line x1="233.49999999999997" y1="511.2" x2="233.49999999999997" y2="506.4" stroke="#000" stroke-width="1.5" />
<text transform="translate(233.5,526) scale(0.84,1)" font-size="11" font-weight="bold" fill="#000" text-anchor="middle" font-family='"Liberation Sans", sans-serif' >6</text>
<line x1="308.95" y1="511.2" x2="308.95" y2="506.4" stroke="#000" stroke-width="1.5" />
<text transform="translate(308.9,526) scale(0.84,1)" font-size="11" font-weight="bold" fill="#000" text-anchor="middle" font-family='"Liberation Sans", sans-serif' >9</text>
<line x1="384.4" y1="511.2" x2="384.4" y2="506.4" stroke="#000" stroke-width="1.5" />
<text transform="translate(384.4,526) scale(0.84,1)" font-size="11" font-weight="bold" fill="#000" text-anchor="middle" font-family='"Liberation Sans", sans-serif' >12</text>
<line x1="120.32499999999999" y1="511.2" x2="120.32499999999999" y2="508.59999999999997" stroke="#000" stroke-width="1.3" />
<line x1="195.77499999999998" y1="511.2" x2="195.77499999999998" y2="508.59999999999997" stroke="#000" stroke-width="1.3" />
<line x1="271.225" y1="511.2" x2="271.225" y2="508.59999999999997" stroke="#000" stroke-width="1.3" />
<line x1="346.67499999999995" y1="511.2" x2="346.67499999999995" y2="508.59999999999997" stroke="#000" stroke-width="1.3" />
<text x="234" y="541.3" font-size="11.4" font-weight="bold" fill="#000" text-anchor="middle" font-family='"Liberation Sans", sans-serif' >Time (hr)</text>
<text transform="translate(28.3,410.5) scale(1.2,1) rotate(-90)" font-size="11.5" font-weight="bold" fill="#000" text-anchor="middle" font-family='"Liberation Sans", sans-serif' >R/R<tspan font-size="6.5" dy="2.5">0</tspan></text>
<text transform="translate(437,410) rotate(-90)" font-size="13" font-weight="bold" fill="#ff1414" text-anchor="middle" font-family='"Liberation Sans", sans-serif' >T<tspan font-size="6.5" dy="2.8">cal</tspan><tspan dy="-2.8"> (</tspan><tspan font-size="6.5" dy="-5">o</tspan><tspan dy="5">C)</tspan></text>
<text transform="translate(478.6,409.6) rotate(-90)" font-size="13" font-weight="bold" fill="#1a1aff" text-anchor="middle" font-family='"Liberation Sans", sans-serif' >T<tspan font-size="6.5" dy="2.8">real</tspan><tspan dy="-2.8"> (</tspan><tspan font-size="6.5" dy="-5">o</tspan><tspan dy="5">C)</tspan></text>
<path d="M82.6,429.8 L158.0,442.5 L233.5,436.5 L308.9,423.5 L384.4,420" fill="none" stroke="#111" stroke-width="1.4" stroke-dasharray="4.6 2.6"/>
<path d="M82.6,471 L158.0,484 L233.5,478 L308.9,463.5 L384.4,458.5" fill="none" stroke="#ff1414" stroke-width="1.4" stroke-dasharray="4.6 2.6"/>
<path d="M82.6,470.5 L158.0,479.5 L233.5,476 L308.9,465 L384.4,453.5" fill="none" stroke="#1a1aff" stroke-width="1.4" stroke-dasharray="4.6 2.6"/>
<circle cx="82.6" cy="429.8" r="3.6" fill="url(#ball)"/>
<circle cx="158.0" cy="442.5" r="3.6" fill="url(#ball)"/>
<circle cx="233.5" cy="436.5" r="3.6" fill="url(#ball)"/>
<circle cx="308.9" cy="423.5" r="3.6" fill="url(#ball)"/>
<circle cx="384.4" cy="420" r="3.6" fill="url(#ball)"/>
<circle cx="82.6" cy="471" r="3.6" fill="url(#ballR)"/>
<circle cx="158.0" cy="484" r="3.6" fill="url(#ballR)"/>
<circle cx="233.5" cy="478" r="3.6" fill="url(#ballR)"/>
<circle cx="308.9" cy="463.5" r="3.6" fill="url(#ballR)"/>
<circle cx="384.4" cy="458.5" r="3.6" fill="url(#ballR)"/>
<circle cx="82.6" cy="470.5" r="3.6" fill="url(#ballB)"/>
<circle cx="158.0" cy="479.5" r="3.6" fill="url(#ballB)"/>
<circle cx="233.5" cy="476" r="3.6" fill="url(#ballB)"/>
<circle cx="308.9" cy="465" r="3.6" fill="url(#ballB)"/>
<circle cx="384.4" cy="453.5" r="3.6" fill="url(#ballB)"/>
<polygon points="76.7,413.5 86.3,404.3 86.3,408.3 120.5,408.3 120.5,418.7 86.3,418.7 86.3,422.8" fill="#000"/>
<text x="124.8" y="418" font-size="12.4" font-weight="bold" fill="#000" text-anchor="start" font-family='"Liberation Sans", sans-serif' >Resistance</text>
<text x="264.7" y="499" font-size="12.2" font-weight="bold" fill="#ff1414" text-anchor="start" font-family='"Liberation Sans", sans-serif' >Temperatures</text>
<polygon points="352,488 384.6,488 384.6,484 397,493.8 352,493.8" fill="#ff1414"/>
<polygon points="352,493.8 397,493.8 384.6,503.4 384.6,499.7 352,499.7" fill="#1a1aff"/>
</svg>
</body></html>
